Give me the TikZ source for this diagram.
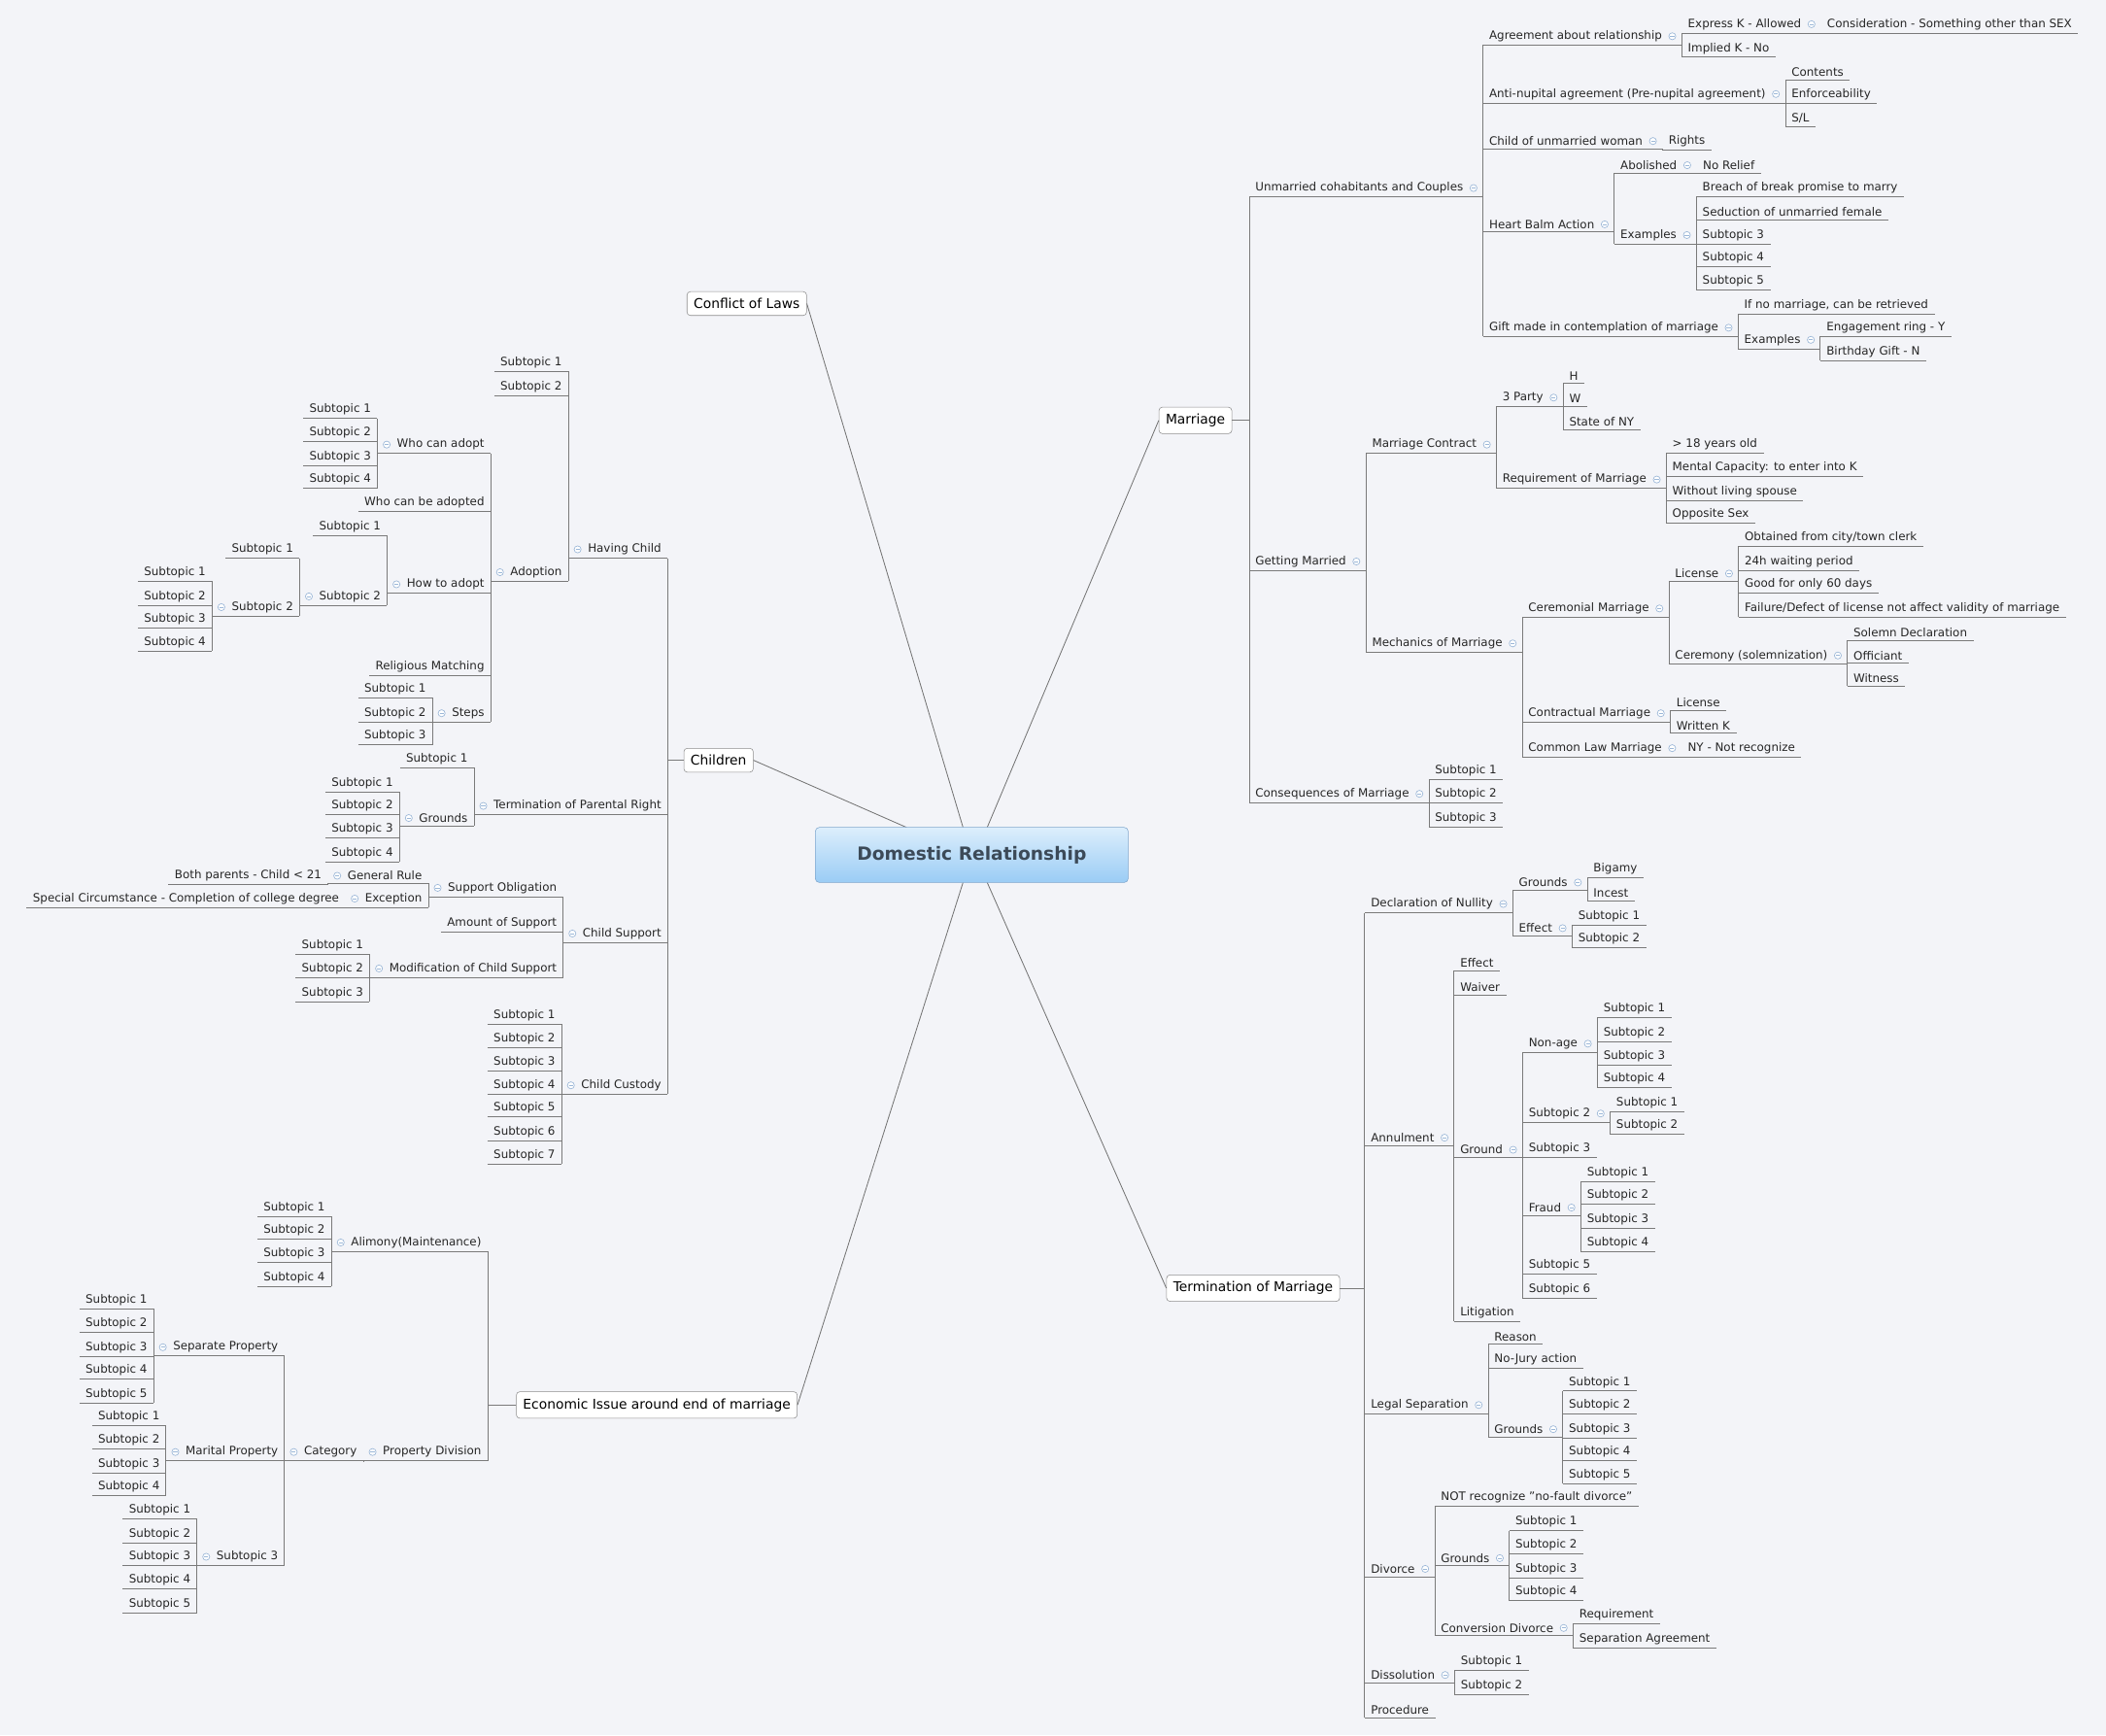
\documentclass[tikz,border=0pt]{standalone}
\usepackage{fontspec}
\setmainfont{DejaVu Sans}
\definecolor{bgc}{HTML}{F3F4F8}
\definecolor{lnc}{HTML}{7A7A7A}
\definecolor{circ}{HTML}{9DB8D8}
\definecolor{ctop}{HTML}{DCEEFC}
\definecolor{cbot}{HTML}{9ACCF5}
\definecolor{cbrd}{HTML}{7FA6CC}
\definecolor{ctxt}{HTML}{3C4A58}
\tikzset{x=1pt,y=1pt,
 lf/.style={inner xsep=4.5pt,inner ysep=2.2pt,font=\fontsize{8.6}{9.6}\selectfont,text=black!85,
   append after command={(\tikzlastnode.south west) edge[lnc,line width=0.5pt] (\tikzlastnode.south east)}},
 cn/.style={lnc,line width=0.5pt},
 cir/.style={draw=circ,fill=white,line width=0.5pt},
 mainbox/.style={draw=black!45,fill=white,rounded corners=2.5pt,inner xsep=5pt,inner ysep=5pt,font=\fontsize{10}{12}\selectfont},
 mainln/.style={black!55,line width=0.6pt}}
\newcommand\mk[2]{\draw[cir] ([xshift=#2]#1.east) circle (2.6pt); \draw[circ,line width=0.5pt] ([xshift=#2-1.5pt]#1.east) -- ([xshift=#2+1.5pt]#1.east);}
\newcommand\mkl[2]{\draw[cir] ([xshift=#2]#1.west) circle (2.6pt); \draw[circ,line width=0.5pt] ([xshift=#2-1.5pt]#1.west) -- ([xshift=#2+1.5pt]#1.west);}
\newcommand\RN[4]{\node[lf,anchor=west] (#1) at (#2.east |- 0,-#3) {#4}; \draw[cn] (#2.south east) -| (#1.south west);}
\newcommand\RP[4]{\node[lf,anchor=west] (#1) at (#2.east |- 0,-#3) {#4\hspace*{10pt}}; \draw[cn] (#2.south east) -| (#1.south west); \mk{#1}{-7pt}}
\newcommand\RT[5]{\node[lf,anchor=west] (#1) at (#3,-#4) {#5\hspace*{10pt}}; \draw[cn] (#2.east) -| (#1.south west); \mk{#1}{-7pt}}
\newcommand\LN[4]{\node[lf,anchor=east] (#1) at (#2.west |- 0,-#3) {#4}; \draw[cn] (#2.south west) -| (#1.south east);}
\newcommand\LP[4]{\node[lf,anchor=east] (#1) at (#2.west |- 0,-#3) {\hspace*{10pt}#4}; \draw[cn] (#2.south west) -| (#1.south east); \mkl{#1}{7pt}}
\newcommand\LT[5]{\node[lf,anchor=east] (#1) at (#3,-#4) {\hspace*{10pt}#5}; \draw[cn] (#2.west) -| (#1.south east); \mkl{#1}{7pt}}
\begin{document}
\begin{tikzpicture}
\fill[bgc] (0,0) rectangle (1568,-1292);
\useasboundingbox (0,0) rectangle (1568,-1292);
\coordinate (c1) at (717,-616);
\coordinate (c2) at (735,-616);
\coordinate (c3) at (675,-616);
\coordinate (c4) at (717,-657);
\coordinate (c5) at (735,-657);
\node[mainbox] (conf) at (556,-226) {Conflict of Laws};
\node[mainbox] (mar) at (890,-313) {Marriage};
\node[mainbox] (ch) at (535,-566) {Children};
\node[mainbox] (eco) at (489,-1046) {Economic Issue around end of marriage};
\node[mainbox] (term) at (933,-959) {Termination of Marriage};
\draw[mainln] (conf.east) -- (c1);
\draw[mainln] (mar.west) -- (c2);
\draw[mainln] (ch.east) -- (c3);
\draw[mainln] (eco.east) -- (c4);
\draw[mainln] (term.west) -- (c5);
\node[draw=cbrd,top color=ctop,bottom color=cbot,rounded corners=3pt,minimum width=233pt,minimum height=41pt,
  font=\fontsize{13.5}{15}\selectfont\bfseries,text=ctxt] (root) at (723.5,-636.5) {Domestic Relationship};
% ---------- Marriage
\RT{um}{mar}{930}{140}{Unmarried cohabitants and Couples}
\RP{ag}{um}{27}{Agreement about relationship}
\RP{ex}{ag}{18}{Express K - Allowed}
\RN{cons}{ex}{18}{Consideration - Something other than SEX}
\RN{imp}{ag}{36}{Implied K - No}
\RP{anti}{um}{70}{Anti-nupital agreement (Pre-nupital agreement)}
\RN{cont}{anti}{54}{Contents}
\RN{enf}{anti}{70}{Enforceability}
\RN{sl}{anti}{88}{S/L}
\RP{cuw}{um}{105}{Child of unmarried woman}
\RN{rights}{cuw}{105}{Rights}
\RP{hb}{um}{167}{Heart Balm Action}
\RP{abol}{hb}{123}{Abolished}
\RN{norel}{abol}{123}{No Relief}
\RP{hbex}{hb}{175}{Examples}
\RN{br}{hbex}{140}{Breach of break promise to marry}
\RN{sed}{hbex}{158}{Seduction of unmarried female}
\RN{hbc}{hbex}{175}{Subtopic 3}
\RN{hbd}{hbex}{192}{Subtopic 4}
\RN{hbe}{hbex}{209}{Subtopic 5}
\RP{gift}{um}{244}{Gift made in contemplation of marriage}
\RN{ifno}{gift}{227}{If no marriage, can be retrieved}
\RP{gex}{gift}{253}{Examples}
\RN{ring}{gex}{244}{Engagement ring - Y}
\RN{bday}{gex}{262}{Birthday Gift - N}
\RT{gm}{mar}{930}{418}{Getting Married}
\RP{mc}{gm}{331}{Marriage Contract}
\RP{tp}{mc}{296}{3 Party}
\RN{tph}{tp}{280}{H}
\RN{tpw}{tp}{297}{W}
\RN{tps}{tp}{314}{State of NY}
\RP{req}{mc}{357}{Requirement of Marriage}
\RN{rqa}{req}{331}{> 18 years old}
\RN{rqb}{req}{348}{Mental Capacity: to enter into K}
\RN{rqc}{req}{366}{Without living spouse}
\RN{rqd}{req}{383}{Opposite Sex}
\RP{mech}{gm}{479}{Mechanics of Marriage}
\RP{cer}{mech}{453}{Ceremonial Marriage}
\RP{lic}{cer}{427}{License}
\RN{lia}{lic}{400}{Obtained from city/town clerk}
\RN{lib}{lic}{418}{24h waiting period}
\RN{lic3}{lic}{435}{Good for only 60 days}
\RN{lid}{lic}{453}{Failure/Defect of license not affect validity of marriage}
\RP{cery}{cer}{488}{Ceremony (solemnization)}
\RN{sol}{cery}{471}{Solemn Declaration}
\RN{off}{cery}{488}{Officiant}
\RN{wit}{cery}{505}{Witness}
\RP{ctm}{mech}{531}{Contractual Marriage}
\RN{ctl}{ctm}{523}{License}
\RN{ctw}{ctm}{540}{Written K}
\RP{clm}{mech}{557}{Common Law Marriage}
\RN{nyn}{clm}{557}{NY - Not recognize}
\RT{com}{mar}{930}{591}{Consequences of Marriage}
\RN{coa}{com}{574}{Subtopic 1}
\RN{cob}{com}{591}{Subtopic 2}
\RN{coc}{com}{609}{Subtopic 3}
% ---------- Termination
\RT{dn}{term}{1016}{673}{Declaration of Nullity}
\RP{dng}{dn}{657}{Grounds}
\RN{big}{dng}{647}{Bigamy}
\RN{inc}{dng}{665}{Incest}
\RP{dne}{dn}{691}{Effect}
\RN{dnea}{dne}{682}{Subtopic 1}
\RN{dneb}{dne}{699}{Subtopic 2}
\RT{ann}{term}{1016}{847}{Annulment}
\RN{aef}{ann}{717}{Effect}
\RN{awa}{ann}{735}{Waiver}
\RP{agr}{ann}{856}{Ground}
\RP{nona}{agr}{777}{Non-age}
\RN{naa}{nona}{751}{Subtopic 1}
\RN{nab}{nona}{769}{Subtopic 2}
\RN{nac}{nona}{786}{Subtopic 3}
\RN{nad}{nona}{803}{Subtopic 4}
\RP{gsb}{agr}{829}{Subtopic 2}
\RN{gsba}{gsb}{821}{Subtopic 1}
\RN{gsbb}{gsb}{838}{Subtopic 2}
\RN{gsc}{agr}{855}{Subtopic 3}
\RP{fr}{agr}{899}{Fraud}
\RN{fra}{fr}{873}{Subtopic 1}
\RN{frb}{fr}{890}{Subtopic 2}
\RN{frc}{fr}{908}{Subtopic 3}
\RN{frd}{fr}{925}{Subtopic 4}
\RN{gse}{agr}{942}{Subtopic 5}
\RN{gsf}{agr}{960}{Subtopic 6}
\RN{lit}{ann}{977}{Litigation}
\RT{ls}{term}{1016}{1046}{Legal Separation}
\RN{rea}{ls}{995}{Reason}
\RN{nj}{ls}{1012}{No-Jury action}
\RP{lsg}{ls}{1064}{Grounds}
\RN{lsa}{lsg}{1029}{Subtopic 1}
\RN{lsb}{lsg}{1046}{Subtopic 2}
\RN{lsc}{lsg}{1064}{Subtopic 3}
\RN{lsd}{lsg}{1081}{Subtopic 4}
\RN{lse}{lsg}{1098}{Subtopic 5}
\RT{div}{term}{1016}{1168}{Divorce}
\RN{nf}{div}{1115}{NOT recognize "no-fault divorce"}
\RP{dvg}{div}{1160}{Grounds}
\RN{dva}{dvg}{1133}{Subtopic 1}
\RN{dvb}{dvg}{1150}{Subtopic 2}
\RN{dvc}{dvg}{1168}{Subtopic 3}
\RN{dvd}{dvg}{1185}{Subtopic 4}
\RP{cd}{div}{1212}{Conversion Divorce}
\RN{cdr}{cd}{1202}{Requirement}
\RN{cds}{cd}{1220}{Separation Agreement}
\RT{dis}{term}{1016}{1247}{Dissolution}
\RN{dsa}{dis}{1237}{Subtopic 1}
\RN{dsb}{dis}{1255}{Subtopic 2}
\node[lf,anchor=west] (proc) at (1016,-1273) {Procedure};
\draw[cn] (term.east) -| (proc.south west);
% ---------- Children
\LT{hc}{ch}{497}{409}{Having Child}
\LN{hca}{hc}{270}{Subtopic 1}
\LN{hcb}{hc}{288}{Subtopic 2}
\LP{ado}{hc}{426}{Adoption}
\LP{wca}{ado}{331}{Who can adopt}
\LN{wa}{wca}{305}{Subtopic 1}
\LN{wb}{wca}{322}{Subtopic 2}
\LN{wc}{wca}{340}{Subtopic 3}
\LN{wd}{wca}{357}{Subtopic 4}
\LN{wcb}{ado}{374}{Who can be adopted}
\LP{hta}{ado}{435}{How to adopt}
\LN{hta1}{hta}{392}{Subtopic 1}
\LP{hta2}{hta}{444}{Subtopic 2}
\LN{htb1}{hta2}{409}{Subtopic 1}
\LP{htb2}{hta2}{452}{Subtopic 2}
\LN{hx1}{htb2}{426}{Subtopic 1}
\LN{hx2}{htb2}{444}{Subtopic 2}
\LN{hx3}{htb2}{461}{Subtopic 3}
\LN{hx4}{htb2}{478}{Subtopic 4}
\LN{rm}{ado}{496}{Religious Matching}
\LP{stp}{ado}{531}{Steps}
\LN{sta}{stp}{513}{Subtopic 1}
\LN{stb}{stp}{531}{Subtopic 2}
\LN{stc}{stp}{548}{Subtopic 3}
\LT{tpr}{ch}{497}{600}{Termination of Parental Right}
\LN{tpa}{tpr}{565}{Subtopic 1}
\LP{tpg}{tpr}{609}{Grounds}
\LN{tga}{tpg}{583}{Subtopic 1}
\LN{tgb}{tpg}{600}{Subtopic 2}
\LN{tgc}{tpg}{617}{Subtopic 3}
\LN{tgd}{tpg}{635}{Subtopic 4}
\LT{cs}{ch}{497}{695}{Child Support}
\LP{so}{cs}{661}{Support Obligation}
\LP{gr}{so}{652}{General Rule}
\LN{bp}{gr}{652}{Both parents - Child < 21}
\LP{exc}{so}{669}{Exception}
\LN{spc}{exc}{669}{Special Circumstance - Completion of college degree}
\LN{aos}{cs}{687}{Amount of Support}
\LP{mod}{cs}{721}{Modification of Child Support}
\LN{moa}{mod}{704}{Subtopic 1}
\LN{mob}{mod}{721}{Subtopic 2}
\LN{moc}{mod}{739}{Subtopic 3}
\LT{cc}{ch}{497}{808}{Child Custody}
\LN{cca}{cc}{756}{Subtopic 1}
\LN{ccb}{cc}{773}{Subtopic 2}
\LN{ccc}{cc}{791}{Subtopic 3}
\LN{ccd}{cc}{808}{Subtopic 4}
\LN{cce}{cc}{825}{Subtopic 5}
\LN{ccf}{cc}{843}{Subtopic 6}
\LN{ccg}{cc}{860}{Subtopic 7}
% ---------- Economic
\LT{ali}{eco}{363}{925}{Alimony(Maintenance)}
\LN{ala}{ali}{899}{Subtopic 1}
\LN{alb}{ali}{916}{Subtopic 2}
\LN{alc}{ali}{933}{Subtopic 3}
\LN{ald}{ali}{951}{Subtopic 4}
\LT{pd}{eco}{363}{1081}{Property Division}
\LP{cat}{pd}{1081}{Category}
\LP{sp}{cat}{1003}{Separate Property}
\LN{spa}{sp}{968}{Subtopic 1}
\LN{spb}{sp}{985}{Subtopic 2}
\LN{spcc}{sp}{1003}{Subtopic 3}
\LN{spd}{sp}{1020}{Subtopic 4}
\LN{spe}{sp}{1038}{Subtopic 5}
\LP{mp}{cat}{1081}{Marital Property}
\LN{mpa}{mp}{1055}{Subtopic 1}
\LN{mpb}{mp}{1072}{Subtopic 2}
\LN{mpc}{mp}{1090}{Subtopic 3}
\LN{mpd}{mp}{1107}{Subtopic 4}
\LP{s3}{cat}{1159}{Subtopic 3}
\LN{s3a}{s3}{1124}{Subtopic 1}
\LN{s3b}{s3}{1142}{Subtopic 2}
\LN{s3c}{s3}{1159}{Subtopic 3}
\LN{s3d}{s3}{1176}{Subtopic 4}
\LN{s3e}{s3}{1194}{Subtopic 5}
\end{tikzpicture}
\end{document}
